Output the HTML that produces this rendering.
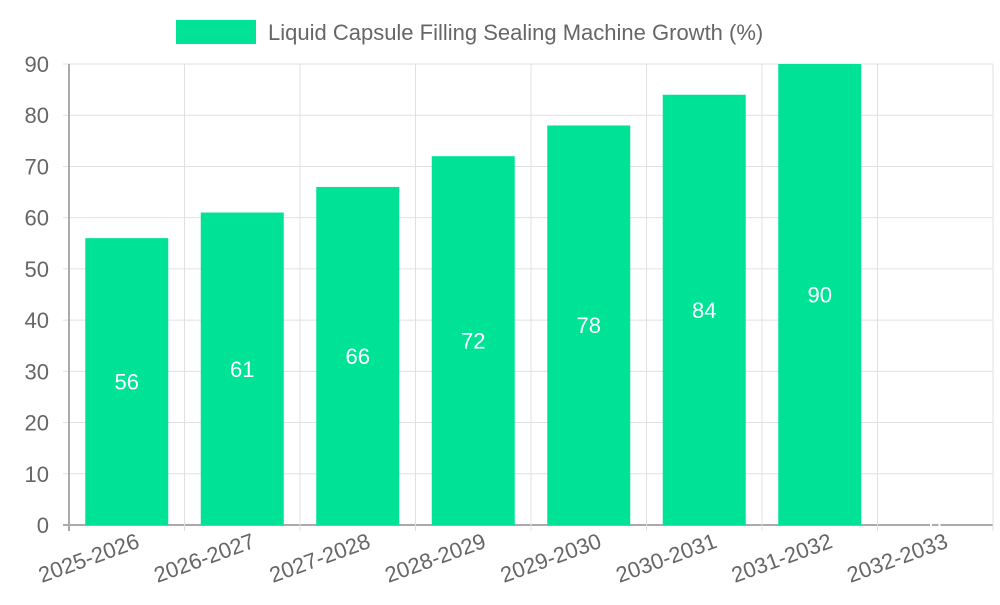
<!DOCTYPE html>
<html><head><meta charset="utf-8"><style>
body{margin:0;background:#fff;font-family:"Liberation Sans",sans-serif}
</style></head><body>
<svg width="1000" height="600" xmlns="http://www.w3.org/2000/svg">
<g>
<rect x="176" y="20" width="80" height="24" fill="#00e396"/>
<text x="268" y="40" font-size="22" fill="#666" font-family="Liberation Sans, sans-serif">Liquid Capsule Filling Sealing Machine Growth (%)</text>
</g>
<g id="grid"></g><g id="bars"></g><g id="labels"></g>
</svg>
<script>
const categories=["2025-2026","2026-2027","2027-2028","2028-2029","2029-2030","2030-2031","2031-2032","2032-2033"];
const values=[56,61,66,72,78,84,90,0];
const yTicks=[0,10,20,30,40,50,60,70,80,90];
const L=69,R=993,T=64,B=525,yMax=90;
const NS="http://www.w3.org/2000/svg";
const bw=(R-L)/categories.length;
const y=v=>B-(v/yMax)*(B-T);
const x=i=>L+i*bw;
function mk(tag,attrs,parent){const e=document.createElementNS(NS,tag);for(const k in attrs)e.setAttribute(k,attrs[k]);document.getElementById(parent).appendChild(e);return e;}
yTicks.forEach(t=>{
 const g=mk('line',{x1:L-6,x2:R,y1:y(t),y2:y(t),stroke:t===0?'#aaa':'#e0e0e0','stroke-width':t===0?2:1},'grid');
 
 
 const tx=mk('text',{x:L-20,y:y(t)+8,'text-anchor':'end','font-size':22,fill:'#666'},'grid');tx.textContent=t;
 
 
});
for(let i=0;i<=categories.length;i++){
 const g=mk('line',{x1:x(i),x2:x(i),y1:T,y2:B+6,stroke:i===0?'#aaa':'#e0e0e0','stroke-width':i===0?2:1},'grid');
 
 
}
categories.forEach((c,i)=>{
 const cx=x(i)+bw/2;
 const r=mk('rect',{x:cx-41.5,width:83,y:y(values[i]),height:B-y(values[i]),fill:'#00e396'},'bars');
 
 
 const v=mk('text',{x:cx,y:(y(values[i])+B)/2+8,'text-anchor':'middle','font-size':22,fill:'#fff'},'labels');v.textContent=values[i];
 
 
 const t=mk('text',{x:cx+14,y:B+22,'text-anchor':'end','font-size':22,fill:'#666',transform:`rotate(-20 ${cx+14} ${B+22})`},'labels');t.textContent=c;
 
 
});
</script>
</body></html>
